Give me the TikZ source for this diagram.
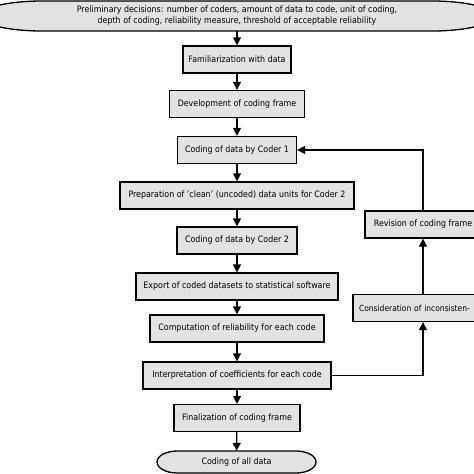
\documentclass[tikz,border=0pt]{standalone}
\usepackage{fontspec}
\setmainfont[FakeStretch=0.9]{DejaVu Sans}
\usetikzlibrary{arrows.meta}
\definecolor{boxfill}{HTML}{E2E2E2}
\begin{document}
\begin{tikzpicture}[x=1pt,y=-1pt,
  box/.style={draw=black, fill=boxfill, line width=1.3pt, inner sep=0pt,
    minimum height=27pt, font=\fontsize{8.8}{10}\selectfont},
  term/.style={inner sep=0pt, font=\fontsize{8.8}{11}\selectfont, align=center},
  arr/.style={line width=1.3pt, -{Triangle[length=8pt,width=8pt]}},
  ln/.style={line width=1.3pt}]
\useasboundingbox (0,0) rectangle (474,474);
\fill[white] (0,0) rectangle (474,474);
\clip (0,0) rectangle (474,474);

% top terminator
\draw[fill=boxfill, line width=1.3pt] (42,1) -- (432,1)
  arc[start angle=-90, end angle=90, x radius=62, y radius=15]
  -- (42,31)
  arc[start angle=90, end angle=270, x radius=62, y radius=15] -- cycle;
\node[term, minimum width=390pt, minimum height=30pt] (pre) at (237,16)
  {Preliminary decisions: number of coders, amount of data to code, unit of coding,\\
   depth of coding, reliability measure, threshold of acceptable reliability};

\node[box, minimum width=108pt] (fam) at (237,59.5) {Familiarization with data};
\node[box, minimum width=135pt] (dev) at (237,104) {Development of coding frame};
\node[box, minimum width=119pt] (c1) at (237,150) {Coding of data by Coder 1};
\node[box, minimum width=234pt] (prep) at (237,195.5) {Preparation of 'clean' (uncoded) data units for Coder 2};
\node[box, minimum width=120pt] (c2) at (237,240.5) {Coding of data by Coder 2};
\node[box, minimum width=202pt] (exp) at (237,286.5) {Export of coded datasets to statistical software};
\node[box, minimum width=174pt] (comp) at (237,328.5) {Computation of reliability for each code};
\node[box, minimum width=188pt] (interp) at (237,375.5) {Interpretation of coefficients for each code};
\node[box, minimum width=126pt] (fin) at (237,418) {Finalization of coding frame};

% bottom terminator
\draw[fill=boxfill, line width=1.3pt] (177,451) -- (296,451)
  arc[start angle=-90, end angle=90, x radius=20, y radius=11]
  -- (177,473)
  arc[start angle=90, end angle=270, x radius=20, y radius=11] -- cycle;
\node[term, minimum width=159pt, minimum height=22pt] (all) at (236.5,462) {Coding of all data};

\node[box, minimum width=116pt] (rev) at (423,224.5) {Revision of coding frame};
\node[box, minimum width=140pt, text width=128pt, align=left,
  font=\fontsize{8.4}{10}\selectfont] (cons) at (423,308) {Consideration of inconsisten-};

\draw[arr] (pre.south) -- (fam.north);
\draw[arr] (fam) -- (dev);
\draw[arr] (dev) -- (c1);
\draw[arr] (c1) -- (prep);
\draw[arr] (prep) -- (c2);
\draw[arr] (c2) -- (exp);
\draw[arr] (exp) -- (comp);
\draw[arr] (comp) -- (interp);
\draw[arr] (interp) -- (fin);
\draw[arr] (fin) -- (all);

\draw[arr] (interp.east) -| (cons.south);
\draw[arr] (cons) -- (rev);
\draw[arr] (rev.north) |- (c1.east);
\end{tikzpicture}
\end{document}
